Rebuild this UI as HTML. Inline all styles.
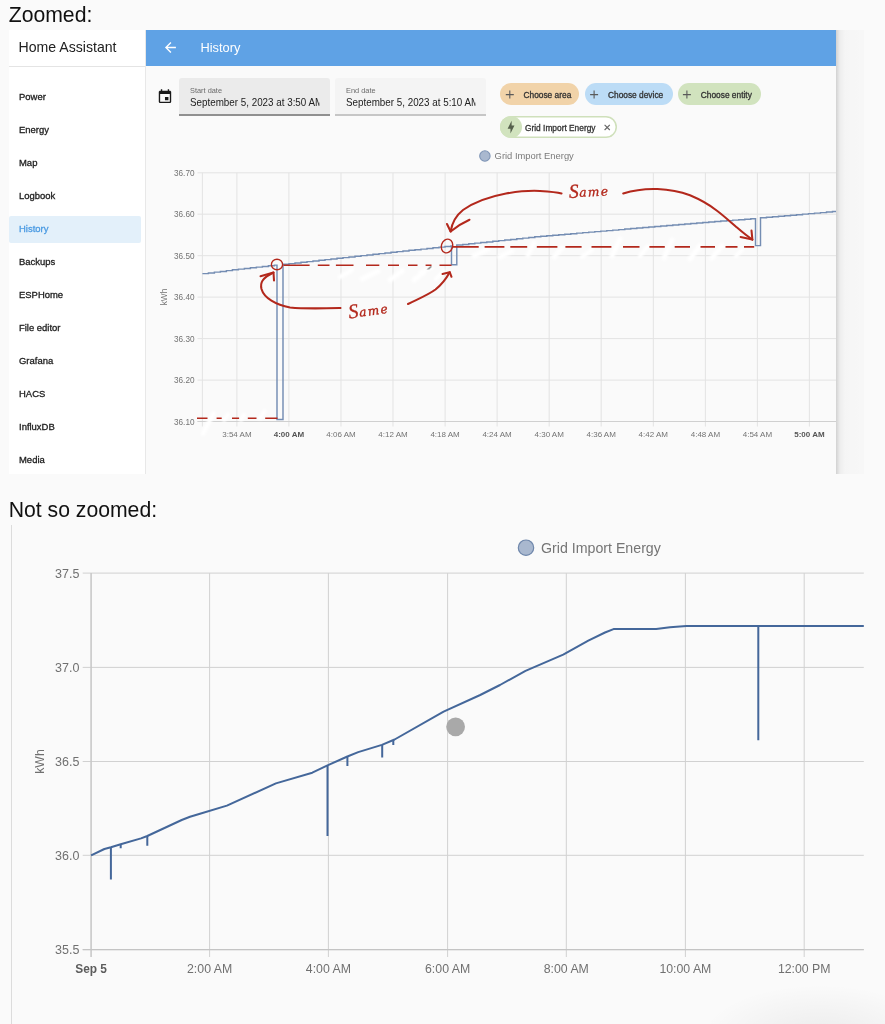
<!DOCTYPE html>
<html lang="en">
<head>
<meta charset="utf-8">
<title>Zoomed</title>
<style>
html,body{margin:0;padding:0;}
html{width:885px;height:1024px;overflow:hidden;background:#fafafa;}
body{width:885px;height:1024px;overflow:hidden;background:#fafafa;font-family:"Liberation Sans",sans-serif;position:relative;}
.cap{position:absolute;left:8.7px;font-size:21.2px;color:#111;line-height:24px;white-space:nowrap;}
#panel{position:absolute;left:9px;top:30.3px;width:827px;height:444px;background:#fafafa;overflow:hidden;}
#pshadow{position:absolute;left:836px;top:30.3px;width:28px;height:444px;background:linear-gradient(to right,rgba(0,0,0,0.16),rgba(0,0,0,0.05) 4px,rgba(0,0,0,0.018) 9px,rgba(0,0,0,0.012) 100%);}
#bclip{position:absolute;left:700px;top:984px;width:185px;height:40px;overflow:hidden;}
#bshadow{position:absolute;left:0;top:0;width:240px;height:80px;background:radial-gradient(ellipse at 50% 68%,rgba(0,0,0,0.06),rgba(0,0,0,0.025) 42%,rgba(0,0,0,0) 70%);}
#side{position:absolute;left:0;top:0;width:136px;height:444px;background:#fff;border-right:1px solid #e8e8e8;}
#side .hd{position:absolute;left:0;top:0;width:136px;height:36.7px;border-bottom:1px solid #e4e4e4;box-sizing:border-box;}
#side .hd span{position:absolute;left:9.6px;top:9px;font-size:14.1px;line-height:16px;color:#212121;white-space:nowrap;}
#side .it{position:absolute;left:10.3px;font-size:9.6px;line-height:12px;color:#212121;white-space:nowrap;-webkit-text-stroke:0.3px #212121;transform:scaleX(0.985);transform-origin:0 0;margin-top:0.4px;}
#side .sel{position:absolute;left:0.3px;top:185.4px;width:132px;height:27px;background:#e3f0fa;border-radius:2px;}
#bar{position:absolute;left:136px;top:0;width:691px;height:36.1px;background:#5fa2e5;}
#bar span{position:absolute;left:55.5px;top:9.5px;font-size:12.8px;line-height:15px;color:#fff;white-space:nowrap;}
.fld{position:absolute;top:47.5px;height:38.5px;width:151px;box-sizing:border-box;border-radius:3px 3px 0 0;overflow:hidden;}
.fld .l{position:absolute;left:10.8px;top:9px;font-size:7.7px;line-height:8px;color:#6b6b6b;white-space:nowrap;transform:scaleX(0.96);transform-origin:0 0;}
.fld .v{position:absolute;left:10.6px;top:19.4px;font-size:10.4px;line-height:12px;color:#222;white-space:nowrap;width:136.5px;overflow:hidden;transform:scaleX(0.945);transform-origin:0 0;}
.chip{position:absolute;height:22px;border-radius:11px;box-sizing:border-box;font-size:8.35px;line-height:22px;color:#333;white-space:nowrap;-webkit-text-stroke:0.3px #333;}
.chip b{position:absolute;font-weight:normal;top:1px;}
svg{position:absolute;left:0;top:0;}
svg text{font-family:"Liberation Sans",sans-serif;}
svg text.hw{font-family:"Liberation Serif","DejaVu Serif",serif;font-style:italic;}
svg tspan.hw2{font-family:"DejaVu Serif","Liberation Serif",serif;font-style:italic;}
</style>
</head>
<body>
<div class="cap" style="top:2.9px;">Zoomed:</div>
<div class="cap" style="top:498.2px;">Not so zoomed:</div>

<div id="pshadow"></div>
<div id="bclip"><div id="bshadow"></div></div>
<div id="panel">
  <div id="bar"><span>History</span></div>
  <div id="side">
    <div class="hd"><span>Home Assistant</span></div>
    <div class="sel"></div>
    <div class="it" style="top:60px">Power</div>
    <div class="it" style="top:93px">Energy</div>
    <div class="it" style="top:126px">Map</div>
    <div class="it" style="top:159px">Logbook</div>
    <div class="it" style="top:192px;color:#4a9ae2;-webkit-text-stroke-color:#4a9ae2">History</div>
    <div class="it" style="top:225px">Backups</div>
    <div class="it" style="top:258px">ESPHome</div>
    <div class="it" style="top:291px">File editor</div>
    <div class="it" style="top:324px">Grafana</div>
    <div class="it" style="top:357px">HACS</div>
    <div class="it" style="top:390px">InfluxDB</div>
    <div class="it" style="top:423px">Media</div>
  </div>
  <div class="fld" style="left:170px;background:#ebebeb;border-bottom:2px solid #909090;"><div class="l">Start date</div><div class="v">September 5, 2023 at 3:50 AM</div></div>
  <div class="fld" style="left:326px;background:#f4f4f4;border-bottom:2px solid #c6c6c6;"><div class="l">End date</div><div class="v">September 5, 2023 at 5:10 AM</div></div>
  <div class="chip" style="left:491px;top:52.6px;width:79px;background:#f1d3a9;"><b style="left:23.5px">Choose area</b></div>
  <div class="chip" style="left:576px;top:52.6px;width:87.5px;background:#bcdcf6;"><b style="left:23px">Choose device</b></div>
  <div class="chip" style="left:668.5px;top:52.6px;width:83.5px;background:#d1e3be;"><b style="left:23.3px">Choose entity</b></div>
  <div class="chip" style="left:491px;top:86px;width:116.6px;height:21.7px;background:#fff;box-shadow:inset 0 0 0 1.5px #cfe0bb;line-height:21.7px;"><i style="position:absolute;left:0;top:0;width:21.7px;height:21.7px;border-radius:11px;background:#d1e3be;"></i><b style="left:25px;top:1.6px">Grid Import Energy</b></div>
</div>

<svg width="885" height="1024" viewBox="0 0 885 1024">
<!-- icons -->
<g transform="translate(162.1 39.2) scale(0.69)"><path d="M20,11V13H8L13.5,18.5L12.08,19.92L4.16,12L12.08,4.08L13.5,5.5L8,11H20Z" fill="#fff"/></g>
<g transform="translate(156.7 88.6) scale(0.69)"><path d="M19,19H5V8H19M16,1V3H8V1H6V3H5C3.89,3 3,3.89 3,5V19A2,2 0 0,0 5,21H19A2,2 0 0,0 21,19V5C21,3.89 20.1,3 19,3H18V1M17,12H12V17H17V12Z" fill="#1a1a1a"/></g>
<g stroke="#5a5a5a" stroke-width="1.1" fill="none">
<path d="M505.8 94.6h8M509.8 90.6v8"/>
<path d="M590.1 94.6h8M594.1 90.6v8"/>
<path d="M682.9 94.6h8M686.9 90.6v8"/>
<path d="M604.6 124.8l5.2 5.2M609.8 124.8l-5.2 5.2" stroke="#666" stroke-width="1.1"/>
</g>
<g transform="translate(504.2 120.3) scale(0.57)"><path d="M11,15H6L13,1V9H18L11,23V15Z" fill="#55604c"/></g>
<g stroke="#e3e3e3" stroke-width="1" fill="none">
<line x1="197.5" y1="172.8" x2="836" y2="172.8"/>
<line x1="197.5" y1="214.2" x2="836" y2="214.2"/>
<line x1="197.5" y1="255.7" x2="836" y2="255.7"/>
<line x1="197.5" y1="297.1" x2="836" y2="297.1"/>
<line x1="197.5" y1="338.6" x2="836" y2="338.6"/>
<line x1="197.5" y1="380.1" x2="836" y2="380.1"/>
<line x1="197.5" y1="421.5" x2="836" y2="421.5"/>
<line x1="202.4" y1="172.8" x2="202.4" y2="426.5"/>
<line x1="236.9" y1="172.8" x2="236.9" y2="426.5"/>
<line x1="288.9" y1="172.8" x2="288.9" y2="426.5"/>
<line x1="341" y1="172.8" x2="341" y2="426.5"/>
<line x1="393" y1="172.8" x2="393" y2="426.5"/>
<line x1="445.1" y1="172.8" x2="445.1" y2="426.5"/>
<line x1="497.1" y1="172.8" x2="497.1" y2="426.5"/>
<line x1="549.2" y1="172.8" x2="549.2" y2="426.5"/>
<line x1="601.2" y1="172.8" x2="601.2" y2="426.5"/>
<line x1="653.3" y1="172.8" x2="653.3" y2="426.5"/>
<line x1="705.4" y1="172.8" x2="705.4" y2="426.5"/>
<line x1="757.4" y1="172.8" x2="757.4" y2="426.5"/>
<line x1="809.4" y1="172.8" x2="809.4" y2="426.5"/>
</g>
<line x1="197.5" y1="421.5" x2="836" y2="421.5" stroke="#d0d0d0" stroke-width="1"/>
<g font-size="8.2" fill="#737373" text-anchor="end">
<text x="194.5" y="175.8">36.70</text>
<text x="194.5" y="217.2">36.60</text>
<text x="194.5" y="258.7">36.50</text>
<text x="194.5" y="300.1">36.40</text>
<text x="194.5" y="341.6">36.30</text>
<text x="194.5" y="383.1">36.20</text>
<text x="194.5" y="424.5">36.10</text>
</g>
<text x="166.8" y="297" font-size="8.3" fill="#737373" text-anchor="middle" transform="rotate(-90 166.8 297)">kWh</text>
<g font-size="8" fill="#737373" text-anchor="middle">
<text x="236.9" y="437">3:54 AM</text>
<text x="288.9" y="437" font-weight="bold" fill="#555">4:00 AM</text>
<text x="341" y="437">4:06 AM</text>
<text x="393" y="437">4:12 AM</text>
<text x="445.1" y="437">4:18 AM</text>
<text x="497.1" y="437">4:24 AM</text>
<text x="549.2" y="437">4:30 AM</text>
<text x="601.2" y="437">4:36 AM</text>
<text x="653.3" y="437">4:42 AM</text>
<text x="705.4" y="437">4:48 AM</text>
<text x="757.4" y="437">4:54 AM</text>
<text x="809.4" y="437" font-weight="bold" fill="#555">5:00 AM</text>
</g>
<circle cx="484.9" cy="156" r="5.2" fill="#a9b8cf" stroke="#7f95b6" stroke-width="1.1"/>
<text x="494.6" y="159.1" font-size="9.4" fill="#7a7a7a">Grid Import Energy</text>
<path d="M202.4 273.6 L208.4 273.6 L208.4 272.9 L214.4 272.9 L214.4 272.1 L220.4 272.1 L220.4 271.4 L226.4 271.4 L226.4 270.6 L232.4 270.6 L232.4 269.8 L238.4 269.8 L238.4 269.1 L244.4 269.1 L244.4 268.4 L250.4 268.4 L250.4 267.7 L256.4 267.7 L256.4 267.1 L262.4 267.1 L262.4 266.4 L268.4 266.4 L268.4 265.8 L274.4 265.8 L274.4 265.1 L277 265.1 L277 419.5 L283 419.5 L283 264.2 L289 264.2 L289 263.6 L295 263.6 L295 262.9 L301 262.9 L301 262.2 L307 262.2 L307 261.6 L313 261.6 L313 260.9 L319 260.9 L319 260.3 L325 260.3 L325 259.6 L331 259.6 L331 258.9 L337 258.9 L337 258.3 L343 258.3 L343 257.6 L349 257.6 L349 256.9 L355 256.9 L355 256.3 L361 256.3 L361 255.6 L367 255.6 L367 254.9 L373 254.9 L373 254.3 L379 254.3 L379 253.6 L385 253.6 L385 253 L391 253 L391 252.3 L397 252.3 L397 251.6 L403 251.6 L403 251 L409 251 L409 250.3 L415 250.3 L415 249.7 L421 249.7 L421 249.1 L427 249.1 L427 248.4 L433 248.4 L433 247.8 L439 247.8 L439 247.1 L445 247.1 L445 246.5 L451 246.5 L451 245.9 L451.5 245.9 L451.5 264.8 L456.8 264.8 L456.8 245 L462.8 245 L462.8 244.4 L468.8 244.4 L468.8 243.8 L474.8 243.8 L474.8 243.1 L480.8 243.1 L480.8 242.5 L486.8 242.5 L486.8 241.9 L492.8 241.9 L492.8 241.2 L498.8 241.2 L498.8 240.6 L504.8 240.6 L504.8 240 L510.8 240 L510.8 239.4 L516.8 239.4 L516.8 238.7 L522.8 238.7 L522.8 238.1 L528.8 238.1 L528.8 237.5 L534.8 237.5 L534.8 236.8 L540.8 236.8 L540.8 236.2 L546.8 236.2 L546.8 235.7 L552.8 235.7 L552.8 235.2 L558.8 235.2 L558.8 234.7 L564.8 234.7 L564.8 234.2 L570.8 234.2 L570.8 233.7 L576.8 233.7 L576.8 233.1 L582.8 233.1 L582.8 232.6 L588.8 232.6 L588.8 232.1 L594.8 232.1 L594.8 231.6 L600.8 231.6 L600.8 231.1 L606.8 231.1 L606.8 230.6 L612.8 230.6 L612.8 230.1 L618.8 230.1 L618.8 229.6 L624.8 229.6 L624.8 229 L630.8 229 L630.8 228.5 L636.8 228.5 L636.8 228 L642.8 228 L642.8 227.5 L648.8 227.5 L648.8 227 L654.8 227 L654.8 226.5 L660.8 226.5 L660.8 226 L666.8 226 L666.8 225.4 L672.8 225.4 L672.8 224.9 L678.8 224.9 L678.8 224.4 L684.8 224.4 L684.8 223.9 L690.8 223.9 L690.8 223.4 L696.8 223.4 L696.8 222.9 L702.8 222.9 L702.8 222.4 L708.8 222.4 L708.8 221.9 L714.8 221.9 L714.8 221.5 L720.8 221.5 L720.8 221 L726.8 221 L726.8 220.6 L732.8 220.6 L732.8 220.1 L738.8 220.1 L738.8 219.7 L744.8 219.7 L744.8 219.2 L750.8 219.2 L750.8 218.8 L755.5 218.8 L755.5 245.6 L760.5 245.6 L760.5 217.8 L766.5 217.8 L766.5 217.3 L772.5 217.3 L772.5 216.8 L778.5 216.8 L778.5 216.2 L784.5 216.2 L784.5 215.7 L790.5 215.7 L790.5 215.2 L796.5 215.2 L796.5 214.7 L802.5 214.7 L802.5 214.1 L808.5 214.1 L808.5 213.6 L814.5 213.6 L814.5 213.1 L820.5 213.1 L820.5 212.6 L826.5 212.6 L826.5 212 L832.5 212 L832.5 211.5 L836 211.5" fill="none" stroke="#748db3" stroke-width="1.45" stroke-linejoin="miter"/>
<filter id="sm" x="-20%" y="-20%" width="140%" height="140%"><feGaussianBlur stdDeviation="0.9"/></filter>
<g stroke="#ffffff" stroke-linecap="round" fill="none" filter="url(#sm)">
<line x1="203" y1="433.5" x2="213.5" y2="413.5" stroke-width="4.5"/>
<line x1="224" y1="420" x2="228" y2="414.5" stroke-width="4"/>
<line x1="241" y1="420" x2="244" y2="415" stroke-width="4"/>
<line x1="260" y1="418" x2="264.5" y2="411.5" stroke-width="4"/>
<line x1="340" y1="277" x2="352" y2="270" stroke-width="4.5"/>
<line x1="362" y1="279" x2="378" y2="271" stroke-width="5"/>
<line x1="390" y1="280" x2="402" y2="271" stroke-width="5"/>
<line x1="414" y1="280" x2="424" y2="272" stroke-width="5"/>
<line x1="436" y1="279" x2="444" y2="271" stroke-width="4"/>
<line x1="420" y1="272" x2="432" y2="268" stroke-width="3"/>
<line x1="474" y1="256" x2="488" y2="249" stroke-width="5"/>
<line x1="500" y1="257" x2="512" y2="251" stroke-width="5"/>
<line x1="528" y1="255" x2="534" y2="243" stroke-width="5"/>
<line x1="554" y1="257" x2="562" y2="248" stroke-width="5"/>
<line x1="582" y1="257" x2="592" y2="250" stroke-width="4"/>
<line x1="612" y1="256" x2="620" y2="239" stroke-width="5"/>
<line x1="640" y1="256" x2="648" y2="246" stroke-width="4"/>
<line x1="664" y1="258" x2="672" y2="240" stroke-width="5"/>
<line x1="690" y1="259" x2="700" y2="246" stroke-width="5"/>
<line x1="712" y1="258" x2="722" y2="246" stroke-width="5"/>
<line x1="736" y1="256" x2="742" y2="250" stroke-width="4"/>
</g>
<path d="M426.5 269.5l4-3.4l1.6 0.6l-2.8 2.8z" fill="#9a9a9a"/>
<g stroke="#b3281c" fill="none" stroke-linecap="round" stroke-linejoin="round">
<path d="M197 418.2H207.5M216.6 418.2H221.7M232 418.2H239.1M247.8 418.2H256.5M265.2 418.2H277.5" stroke-width="1.6" stroke-linecap="butt"/>
<path d="M283.4 265.2H309.6M317.8 265.2H329.5M335.9 265.2H353.5M366 265.2H379.3M388 265.2H399M408 265.2H417.5M425.6 265.2H431.5M439.5 265.2H451.5" stroke-width="1.6" stroke-linecap="butt"/>
<path d="M452 246.9H478.7M484.6 246.9H504.4M510.3 246.9H527.2M536.8 246.9H557.4M565.4 246.9H581.6M591.5 246.9H611.4M623 246.9H639.5M649.4 246.9H664.8M674.7 246.9H690M700.5 246.9H715M725.5 246.9H737.5M744 246.9H754.2" stroke-width="1.6" stroke-linecap="butt"/>
<ellipse cx="277" cy="264.5" rx="5.6" ry="5.2" stroke-width="1.4"/>
<ellipse cx="447" cy="246" rx="5.6" ry="7" stroke-width="1.4" transform="rotate(18 447 246)"/>
<path d="M340.5 308 C322 308.5 305 309 290 307.5 C276 305 264 298 261.5 289 C260 283 262 278 273.5 272.5" stroke-width="2.05"/>
<path d="M260.5 276.2 L273.5 272.5 L274 280.5" stroke-width="2.05"/>
<path d="M408 304 C418 299 428 295 435.5 289.5 C441 285 446 279 449.7 272.2" stroke-width="2.05"/>
<path d="M442.5 274 L449.7 272.2 L451.5 276.8" stroke-width="2.05"/>
<path d="M561.5 193.5 C556 192 548 191.5 540 191 C528 190.3 518 191.5 506 193.5 C490 196.5 475 201.5 463 210 C456 215.5 452 223 450.6 231.5" stroke-width="2.05"/>
<path d="M447 224 L450.6 231.5 C456 227 462 223 469.5 219.7" stroke-width="2.05"/>
<path d="M623.2 193.5 C634 190 646 188.6 657.5 189 C670 189.5 680 191.5 690 195.3 C700 199.5 709 204.5 717 210.7 C724 216 730 221.5 735.2 226 C741 231 746 235.5 752.4 239.6" stroke-width="2.05"/>
<path d="M740.6 237 L752.4 239.6 L751.5 230.6" stroke-width="2.05"/>
</g>
<text x="349.3" y="318.6" class="hw" fill="#b3281c" stroke="#b3281c" stroke-width="0.35" transform="rotate(-8 349.3 318.6)"><tspan font-size="20">S</tspan><tspan class="hw2" font-size="12.2" letter-spacing="1.3" dx="0.6" dy="-0.3">ame</tspan></text>
<text x="569.2" y="198" class="hw" fill="#b3281c" stroke="#b3281c" stroke-width="0.35" transform="rotate(-3 569.2 198)"><tspan font-size="19.5">S</tspan><tspan class="hw2" font-size="12.2" letter-spacing="1.3" dx="0.6" dy="-0.6">ame</tspan></text>
<line x1="11.5" y1="525" x2="11.5" y2="1024" stroke="#dcdcdc" stroke-width="1"/>
<g stroke="#d1d1d1" stroke-width="1" fill="none">
<line x1="82.7" y1="573.1" x2="863.8" y2="573.1"/>
<line x1="82.7" y1="667.4" x2="863.8" y2="667.4"/>
<line x1="82.7" y1="761.5" x2="863.8" y2="761.5"/>
<line x1="82.7" y1="855.3" x2="863.8" y2="855.3"/>
<line x1="82.7" y1="949.6" x2="863.8" y2="949.6"/>
<line x1="91.1" y1="573.1" x2="91.1" y2="957"/>
<line x1="209.6" y1="573.1" x2="209.6" y2="957"/>
<line x1="328.4" y1="573.1" x2="328.4" y2="957"/>
<line x1="447.6" y1="573.1" x2="447.6" y2="957"/>
<line x1="566.3" y1="573.1" x2="566.3" y2="957"/>
<line x1="685.4" y1="573.1" x2="685.4" y2="957"/>
<line x1="804.2" y1="573.1" x2="804.2" y2="957"/>
</g>
<line x1="82.7" y1="949.6" x2="863.8" y2="949.6" stroke="#c4c4c4" stroke-width="1.1"/>
<line x1="91.1" y1="573.1" x2="91.1" y2="957" stroke="#c6c6c6" stroke-width="1.2"/>
<g font-size="12.5" fill="#707070" text-anchor="end">
<text x="79.4" y="577.6">37.5</text>
<text x="79.4" y="671.9">37.0</text>
<text x="79.4" y="766">36.5</text>
<text x="79.4" y="859.8">36.0</text>
<text x="79.4" y="954.1">35.5</text>
</g>
<text x="44.4" y="761.5" font-size="12.3" fill="#707070" text-anchor="middle" transform="rotate(-90 44.4 761.5)">kWh</text>
<g font-size="12.3" fill="#707070" text-anchor="middle">
<text x="91.1" y="973" font-weight="bold" fill="#5c5c5c" font-size="11.9">Sep 5</text>
<text x="209.6" y="973">2:00 AM</text>
<text x="328.4" y="973">4:00 AM</text>
<text x="447.6" y="973">6:00 AM</text>
<text x="566.3" y="973">8:00 AM</text>
<text x="685.4" y="973">10:00 AM</text>
<text x="804.2" y="973">12:00 PM</text>
</g>
<circle cx="526" cy="547.7" r="7.7" fill="#a9b8cf" stroke="#6f87ab" stroke-width="1.2"/>
<text x="541" y="552.6" font-size="14.2" fill="#757575">Grid Import Energy</text>
<path d="M91.1 855.3 L104.4 849 L110.9 847.3 L120.7 844.2 L141 838.4 L147.3 836 L181.7 820 L190 816.8 L200 813.8 L226.9 805.6 L275.9 783.4 L312.3 772.7 L327.5 765.4 L347.4 756.5 L358.2 752.1 L381.9 744.9 L394.6 739.5 L443.6 711.6 L480.2 695 L500 685 L525.5 670.8 L563.2 654.7 L588.3 640.7 L605 632.5 L613.5 629.1 L656.2 629.1 L670 627.2 L686.4 626.1 L863.8 626.1" fill="none" stroke="#44679a" stroke-width="2" stroke-linejoin="round"/>
<path d="M110.9 847.3V879.6M120.7 844.2V848.2M147.3 836V845.8M327.5 765.4V836M347.4 756.5V766M382.2 745V757.5M393.3 740V745M758.3 626V740.2" fill="none" stroke="#44679a" stroke-width="2"/>
<circle cx="455.6" cy="726.8" r="9.4" fill="#a9a9a9"/>
</svg>
</body>
</html>
